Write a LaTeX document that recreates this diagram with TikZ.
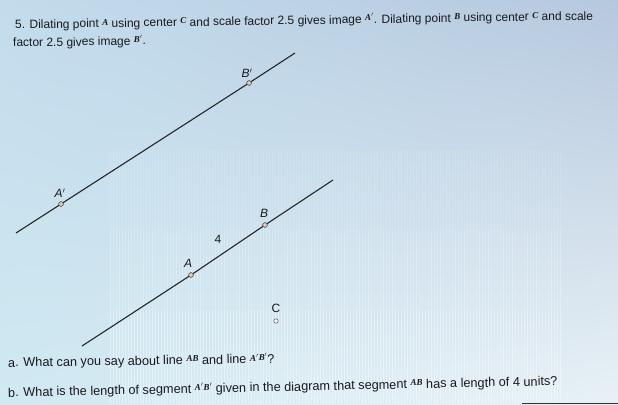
\documentclass[tikz,border=0pt]{standalone}
\usepackage{fontspec}
\setmainfont{Liberation Sans}
\newfontfamily\mathletters{Liberation Serif}
\usetikzlibrary{calc,shadings}
\definecolor{bgul}{RGB}{194,220,236}
\definecolor{bgur}{RGB}{182,200,222}
\definecolor{bgll}{RGB}{208,233,242}
\definecolor{bglr}{RGB}{232,241,246}
\definecolor{ptfill}{RGB}{232,205,180}
\definecolor{txt}{RGB}{25,25,30}
\newcommand{\mv}[1]{\raisebox{2.6pt}{\mathletters\fontsize{9}{9}\selectfont\itshape\bfseries #1}}
\tikzset{
  geoline/.style={line width=1.1pt, color=black!85},
  ptmark/.style={circle, draw=black!70, fill=ptfill, line width=0.5pt, inner sep=0pt, minimum size=4.6pt},
  cmark/.style={circle, draw=black!70, fill=white, line width=0.5pt, inner sep=0pt, minimum size=4.4pt},
  ptlabel/.style={font=\fontsize{12}{12}\selectfont\itshape, text=txt, inner sep=0pt},
  qtext/.style={font=\fontsize{12}{14}\selectfont, text=txt, inner sep=0pt, anchor=base west},
  qtextb/.style={font=\fontsize{12.7}{14}\selectfont, text=txt, inner sep=0pt, anchor=base west},
  stripe/.style={white, line width=0.8pt},
}
\begin{document}
\begin{tikzpicture}[x=1pt,y=-1pt]
\useasboundingbox (0,0) rectangle (618,404);
\shade[upper left=bgul, upper right=bgur, lower left=bgll, lower right=bglr] (0,0) rectangle (618,404);
% faint vertical scan stripes, stronger towards the bottom
\foreach \xx in {110,113,...,560} {
  \draw[stripe, opacity=0.12] (\xx,150) -- (\xx,230);
  \draw[stripe, opacity=0.25] (\xx,230) -- (\xx,310);
  \draw[stripe, opacity=0.38] (\xx,310) -- (\xx,404);
}
\fill[black!80] (522,402.5) rectangle (618,404);

% points
\coordinate (C) at (276,321);
\node[ptmark] (A) at (191,275) {};
\node[ptmark] (B) at (265,225) {};
\node[ptmark] (Ap) at (61,204) {};
\node[ptmark] (Bp) at (249,83) {};
\node[cmark] (Cn) at (C) {};

% lines
\coordinate (L1s) at (16,233);
\coordinate (L1e) at (295,53);
\coordinate (L2s) at (82,346);
\coordinate (L2e) at (333,180);
\draw[geoline] (L1s) -- (Ap) -- (Bp) -- (L1e);
\draw[geoline] (L2s) -- (A) -- (B) -- (L2e);
\node[ptmark] at (A) {};
\node[ptmark] at (B) {};
\node[ptmark] at (Ap) {};
\node[ptmark] at (Bp) {};

% labels
\node[ptlabel] (lAp) at (60,193) {A$'$};
\node[ptlabel] (lBp) at (247,73) {B$'$};
\node[ptlabel] (lA) at (188,263) {A};
\node[ptlabel] (lB) at (264,213) {B};
\node[ptlabel, font=\fontsize{12}{12}\selectfont] (l4) at (218,239) {4};
\node[ptlabel, font=\fontsize{12}{12}\selectfont] (lC) at (276,308) {C};

% text
\node[qtext, rotate=0.9] (t1) at (15,29) {5. Dilating point \mv{A} using center \mv{C} and scale factor 2.5 gives image \mv{A$'$}. Dilating point \mv{B} using center \mv{C} and scale};
\node[qtext, rotate=0.9] (t2) at (13,47) {factor 2.5 gives image \mv{B$'$}.};
\node[qtextb, rotate=0.8] (ta) at (8,367) {a. What can you say about line \mv{AB} and line \mv{A$'$B$'$}?};
\node[qtextb, rotate=1.2] (tb) at (8,397) {b. What is the length of segment \mv{A$'$B$'$} given in the diagram that segment \mv{AB} has a length of 4 units?};
\end{tikzpicture}
\end{document}
